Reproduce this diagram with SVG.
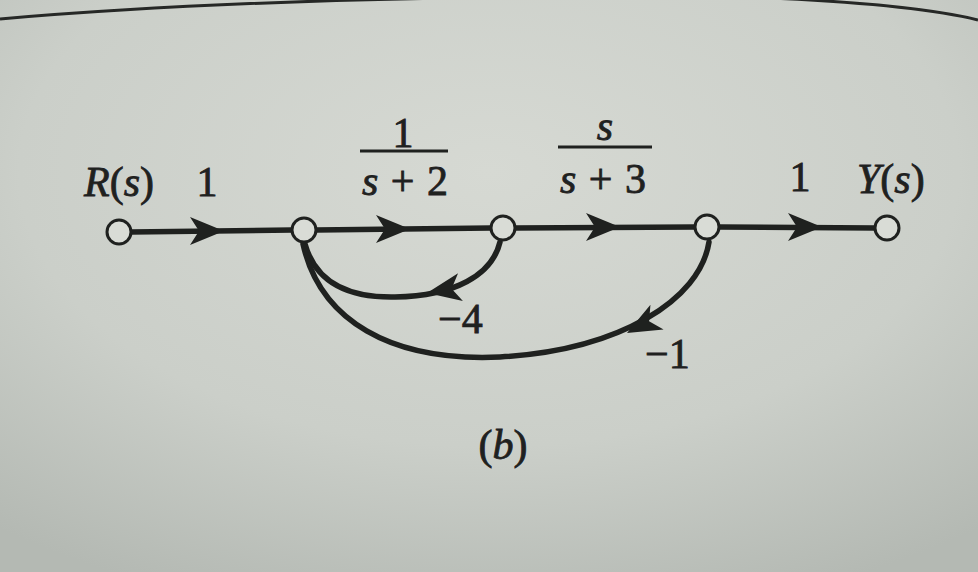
<svg xmlns="http://www.w3.org/2000/svg" width="978" height="572" viewBox="0 0 978 572">
<defs>
<radialGradient id="paper" cx="0.5" cy="0.3" r="0.8">
<stop offset="0" stop-color="#d6d9d3"/>
<stop offset="0.6" stop-color="#cbcfc9"/>
<stop offset="1" stop-color="#b4b9b3"/>
</radialGradient>
<path id="ah" d="M0,0 L-34,-14 L-25,0 L-34,14 Z"/>
<style>
.edge{fill:none;stroke:#1f211f;stroke-width:5.5;stroke-linecap:round}
.bar{stroke:#1f211f;stroke-width:3}
.node{fill:#d9dcd6;stroke:#1f211f;stroke-width:3}
.head{fill:#1f211f}
text{font-family:"Liberation Serif","Times New Roman",serif;font-size:42px;fill:#1f211f;stroke:#1f211f;stroke-width:0.8}
.it{font-style:italic}
</style>
</defs>
<rect width="978" height="572" fill="url(#paper)"/>
<path d="M0,19 C150,6 330,0 450,-2 M770,-2 C860,2 930,8 978,20" fill="none" stroke="#262826" stroke-width="3"/>

<g id="connectors">
<line class="edge" x1="131" y1="232" x2="292" y2="230"/>
<line class="edge" x1="316" y1="230" x2="491" y2="228"/>
<line class="edge" x1="515" y1="228" x2="695" y2="227"/>
<line class="edge" x1="719" y1="227" x2="875" y2="228"/>
<use href="#ah" class="head" transform="translate(224,231)"/>
<use href="#ah" class="head" transform="translate(410,229)"/>
<use href="#ah" class="head" transform="translate(620,227)"/>
<use href="#ah" class="head" transform="translate(822,227)"/>
<path class="edge" d="M500,242 C492,275 455,296 395,297 C345,298 315,280 305,244"/>
<path class="edge" d="M709,242 C700,300 620,350 500,357 C390,362 320,320 303,244"/>
<use href="#ah" class="head" transform="translate(427,293) rotate(170)"/>
<use href="#ah" class="head" transform="translate(627,333) rotate(152)"/>
</g>

<g id="R"><circle class="node" cx="119" cy="232" r="12"/></g>
<g id="N1"><circle class="node" cx="304" cy="230" r="12"/></g>
<g id="N2"><circle class="node" cx="503" cy="228" r="12"/></g>
<g id="N3"><circle class="node" cx="707" cy="227" r="12"/></g>
<g id="Y"><circle class="node" cx="887" cy="228" r="12"/></g>

<g id="labels">
<text x="84" y="196"><tspan class="it">R</tspan>(<tspan class="it">s</tspan>)</text>
<text x="207" y="196" text-anchor="middle">1</text>
<text x="403" y="147" text-anchor="middle">1</text>
<line class="bar" x1="360" y1="151" x2="448" y2="151"/>
<text x="405" y="195" text-anchor="middle" word-spacing="2"><tspan class="it">s</tspan> + 2</text>
<text x="605" y="140" text-anchor="middle" class="it">s</text>
<line class="bar" x1="558" y1="147" x2="652" y2="147"/>
<text x="603" y="193" text-anchor="middle" word-spacing="2"><tspan class="it">s</tspan> + 3</text>
<text x="800" y="191" text-anchor="middle">1</text>
<text x="857" y="193"><tspan class="it">Y</tspan>(<tspan class="it">s</tspan>)</text>
<text x="438" y="333">−4</text>
<text x="645" y="368">−1</text>
<text x="503" y="459" text-anchor="middle">(<tspan class="it">b</tspan>)</text>
</g>
</svg>
